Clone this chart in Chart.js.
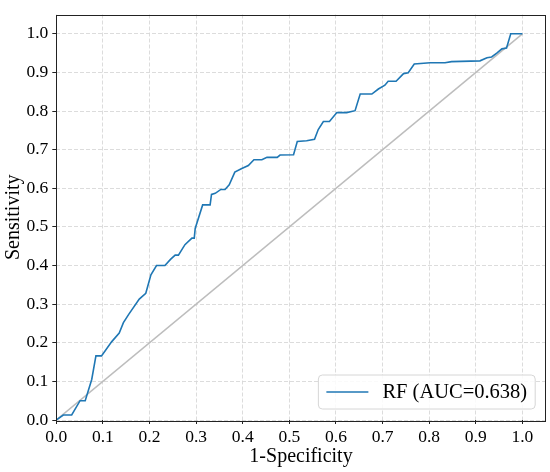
<!DOCTYPE html>
<html><head><meta charset="utf-8">
<script src="https://cdn.jsdelivr.net/npm/chart.js@4.4.1/dist/chart.umd.min.js"></script>
<style>html,body{margin:0;padding:0;background:#fff;}#wrap{width:550px;height:472px;}</style>
</head><body><div id="wrap"><canvas id="c" width="550" height="472"></canvas></div>
<script>
const fpr = [0, 0.015, 0.033, 0.051, 0.062, 0.076, 0.085, 0.097, 0.119, 0.135, 0.144, 0.155, 0.178, 0.192, 0.203, 0.215, 0.233, 0.245, 0.255, 0.262, 0.276, 0.291, 0.296, 0.298, 0.314, 0.330, 0.333, 0.341, 0.353, 0.362, 0.371, 0.383, 0.398, 0.412, 0.424, 0.441, 0.452, 0.474, 0.480, 0.509, 0.517, 0.537, 0.554, 0.562, 0.573, 0.586, 0.602, 0.623, 0.641, 0.652, 0.677, 0.691, 0.705, 0.712, 0.729, 0.745, 0.755, 0.768, 0.802, 0.834, 0.848, 0.909, 0.924, 0.934, 0.945, 0.956, 0.966, 0.975, 1.0];
const tpr = [0, 0.013, 0.013, 0.050, 0.050, 0.105, 0.166, 0.166, 0.203, 0.225, 0.252, 0.273, 0.313, 0.328, 0.376, 0.400, 0.400, 0.416, 0.427, 0.427, 0.454, 0.471, 0.471, 0.496, 0.557, 0.557, 0.584, 0.587, 0.597, 0.597, 0.609, 0.642, 0.651, 0.659, 0.674, 0.674, 0.680, 0.680, 0.686, 0.687, 0.721, 0.723, 0.727, 0.752, 0.773, 0.773, 0.796, 0.796, 0.801, 0.844, 0.844, 0.857, 0.867, 0.877, 0.877, 0.897, 0.899, 0.922, 0.925, 0.925, 0.928, 0.930, 0.938, 0.940, 0.950, 0.961, 0.963, 1.0, 1.0];
const diagX = [0, 1];
const diagY = [0, 1];
const tickValues = [0, 0.1, 0.2, 0.3, 0.4, 0.5, 0.6, 0.7, 0.8, 0.9, 1.0];
const seriesLabel = 'RF (AUC=0.638)';
const xTitle = '1-Specificity';
const yTitle = 'Sensitivity';

const FONT = "'Liberation Serif', 'Times New Roman', serif";

const frame = {
  id: 'frame',
  afterDatasetsDraw(chart) {
    const {ctx, chartArea: a} = chart;
    ctx.save();
    ctx.strokeStyle = '#222';
    ctx.lineWidth = 1;
    ctx.strokeRect(Math.round(a.left) + 0.5, Math.round(a.top) + 0.5, Math.round(a.right - a.left), Math.round(a.bottom - a.top));
    // legend
    const ds = chart.data.datasets[0];
    ctx.font = '20.5px ' + FONT;
    const tw = ctx.measureText(ds.label).width;
    const w = tw + 72, h = 34;
    const x = a.right - 10.5 - w, y = a.bottom - 11 - h;
    ctx.beginPath();
    if (ctx.roundRect) ctx.roundRect(x, y, w, h, 4); else ctx.rect(x, y, w, h);
    ctx.fillStyle = 'rgba(255,255,255,0.85)';
    ctx.fill();
    ctx.strokeStyle = '#d6d6d6';
    ctx.lineWidth = 1;
    ctx.stroke();
    ctx.beginPath();
    ctx.moveTo(x + 8, y + h / 2);
    ctx.lineTo(x + 50, y + h / 2);
    ctx.strokeStyle = ds.borderColor;
    ctx.lineWidth = 1.6;
    ctx.stroke();
    ctx.fillStyle = '#000';
    ctx.textBaseline = 'middle';
    ctx.textAlign = 'left';
    ctx.fillText(ds.label, x + 64, y + h / 2 + 1);
    ctx.restore();
  }
};

const axisCommon = (titleText, isX) => ({
  type: 'linear',
  min: 0,
  max: 1.05,
  afterBuildTicks: (axis) => { axis.ticks = tickValues.map(v => ({value: v})); },
  ticks: {
    color: '#000',
    font: {family: FONT, size: 17.5},
    padding: isX ? 3 : 4,
    callback: (v) => Number(v).toFixed(1),
    maxRotation: 0,
    autoSkip: false
  },
  grid: {
    color: '#d8d8d8',
    lineWidth: 0.9,
    tickColor: '#222',
    tickLength: 4,
    tickWidth: 1,
    drawTicks: true
  },
  border: { display: false, dash: [4, 2] },
  title: {
    display: true,
    text: titleText,
    color: '#000',
    font: {family: FONT, size: 20, lineHeight: 1.2},
    padding: isX ? {top: 0, bottom: 3} : {top: 2, bottom: 0}
  },
  afterFit: (axis) => { if (isX) axis.height = 52; else axis.width = 56.3; }
});

new Chart(document.getElementById('c'), {
  type: 'scatter',
  data: {
    datasets: [
      {
        label: seriesLabel,
        data: fpr.map((x, i) => ({x: x, y: tpr[i]})),
        showLine: true,
        borderColor: '#1f77b4',
        borderWidth: 1.6,
        pointRadius: 0,
        tension: 0,
        fill: false
      },
      {
        label: 'diag',
        data: diagX.map((x, i) => ({x: x, y: diagY[i]})),
        showLine: true,
        borderColor: '#bdbdbd',
        borderWidth: 1.5,
        pointRadius: 0,
        fill: false
      }
    ]
  },
  options: {
    responsive: false,
    animation: false,
    layout: {padding: {left: 0, right: 4.3, top: 5, bottom: 0}},
    plugins: {legend: {display: false}, tooltip: {enabled: false}},
    scales: {
      x: axisCommon(xTitle, true),
      y: axisCommon(yTitle, false)
    }
  },
  plugins: [frame]
});
</script>
</body></html>
